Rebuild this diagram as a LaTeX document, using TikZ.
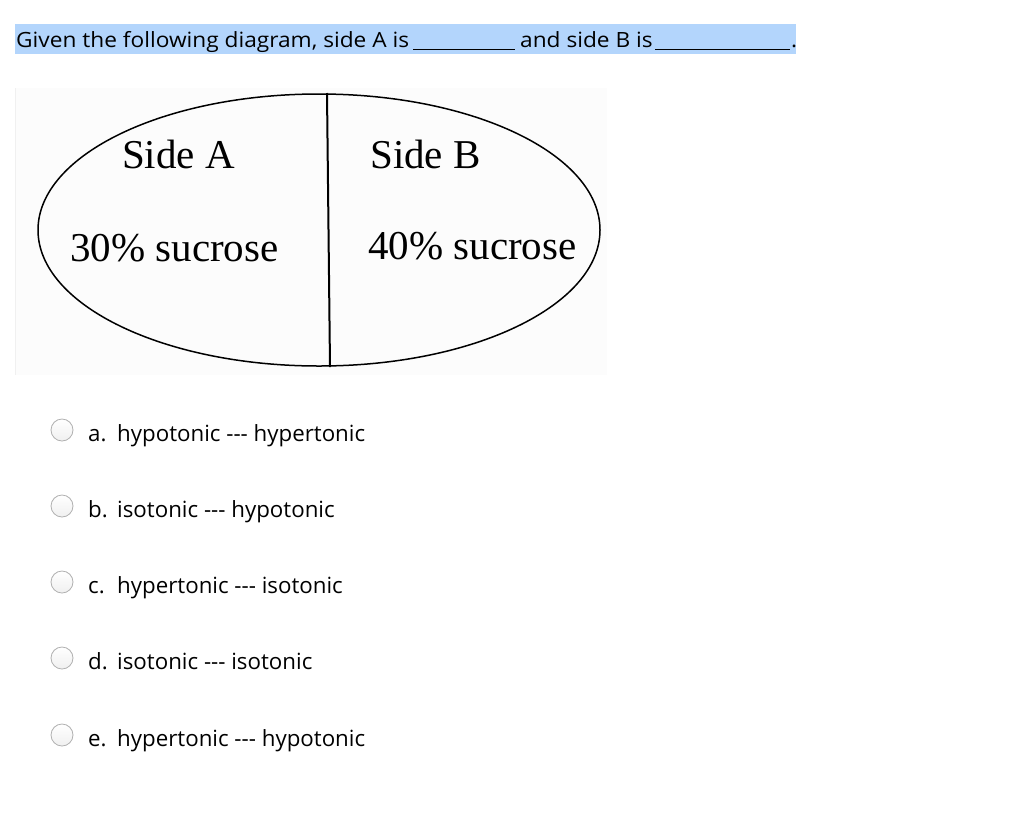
\documentclass[tikz,border=0pt]{standalone}
\usepackage{fontspec}
\setmainfont{Open Sans}
\newfontfamily\headfont{Open Sans}[FakeStretch=1.08]
\newfontfamily\figfont{Liberation Serif}
\definecolor{hl}{HTML}{B3D5FC}
\definecolor{radio}{HTML}{B0B0B0}
\tikzset{
  qtext/.style={anchor=base west, inner sep=0pt, font=\headfont\fontsize{21}{25}\selectfont},
  opt/.style={anchor=base west, inner sep=0pt, font=\fontsize{22.3}{26}\selectfont},
  fig/.style={anchor=base west, inner sep=0pt, font=\figfont\fontsize{41}{48}\selectfont},
  radiobtn/.style={circle, minimum size=22pt, inner sep=0pt, draw=radio, line width=0.8pt, top color=white, bottom color=gray!12},
  blank/.style={line width=1pt, black}
}
\begin{document}
\begin{tikzpicture}[x=1pt,y=-1pt]
\useasboundingbox (0,0) rectangle (1024,833);
\fill[white] (0,0) rectangle (1024,833);
% header
\fill[hl] (15,24) rectangle (796,54);
\node[qtext] (q1) at (16,47) {Given the following diagram, side A is};
\coordinate (u1a) at (413,49); \coordinate (u1b) at (515,49);
\draw[blank] (u1a) -- (u1b);
\node[qtext] (q2) at (520,47) {and side B is};
\coordinate (u2a) at (655,49); \coordinate (u2b) at (790,49);
\draw[blank] (u2a) -- (u2b);
\node[qtext] (q3) at (791,47) {.};
% figure
\fill[black!1] (15,88) rectangle (607,375);
\draw[black!6, line width=1pt] (15.5,88) -- (15.5,375);
\draw[line width=1.5pt] (319,230) ellipse [x radius=281, y radius=136];
\coordinate (top) at (327,93); \coordinate (bot) at (330,367);
\draw[line width=2pt] (top) -- (bot);
\node[fig] (sa) at (122,168) {Side A};
\node[fig] (sb) at (370,168) {Side B};
\node[fig] (ca) at (70,261) {30\% sucrose};
\node[fig] (cb) at (368,259) {40\% sucrose};
% options
\foreach \y/\l/\t [count=\i] in {430/a./hypotonic -\kern0pt-\kern0pt- hypertonic, 506/b./isotonic -\kern0pt-\kern0pt- hypotonic, 582/c./hypertonic -\kern0pt-\kern0pt- isotonic, 658/d./isotonic -\kern0pt-\kern0pt- isotonic, 735/e./hypertonic -\kern0pt-\kern0pt- hypotonic}{
  \node[radiobtn] (r\i) at (62,\y) {};
  \node[opt] (l\i) at (88,\y+11) {\l};
  \node[opt] (t\i) at (117,\y+11) {\t};
}
\end{tikzpicture}
\end{document}
